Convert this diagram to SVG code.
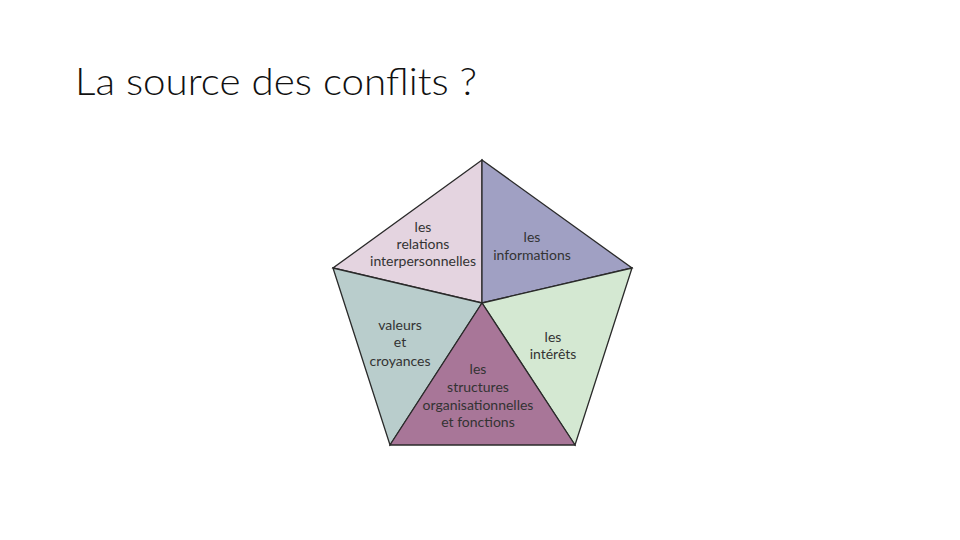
<svg xmlns="http://www.w3.org/2000/svg" width="960" height="540" viewBox="0 0 960 540">
<style>
.seg{stroke:#2a2a2a;stroke-width:1.3;stroke-linejoin:miter}
.lbl{font-family:Lato,"Open Sans","Liberation Sans",sans-serif;font-size:14px;fill:#333;text-anchor:middle}
.title{font-family:Lato,"Open Sans","Liberation Sans",sans-serif;font-weight:300;font-size:38px;fill:#111}
</style>
<rect width="960" height="540" fill="#fff"/>
<text class="title" x="75" y="95" textLength="402" lengthAdjust="spacingAndGlyphs">La source des conflits ?</text>
<g id="relations">
<polygon class="seg" points="482,160 333,268 482,303" fill="#e4d4e0"/>
<text class="lbl" x="423" y="232">les</text>
<text class="lbl" x="423" y="249">relations</text>
<text class="lbl" x="423" y="266">interpersonnelles</text>
</g>
<g id="informations">
<polygon class="seg" points="482,160 632,268 482,303" fill="#a0a0c3"/>
<text class="lbl" x="532" y="242">les</text>
<text class="lbl" x="532" y="260">informations</text>
</g>
<g id="interets">
<polygon class="seg" points="632,268 575,445 482,303" fill="#d4e8d2"/>
<text class="lbl" x="553" y="342">les</text>
<text class="lbl" x="553" y="359">intérêts</text>
</g>
<g id="valeurs">
<polygon class="seg" points="333,268 390,445 482,303" fill="#b9cdcc"/>
<text class="lbl" x="400" y="330">valeurs</text>
<text class="lbl" x="400" y="347">et</text>
<text class="lbl" x="400" y="366">croyances</text>
</g>
<g id="structures">
<polygon class="seg" points="390,445 575,445 482,303" fill="#a87698"/>
<text class="lbl" x="478" y="374">les</text>
<text class="lbl" x="478" y="392">structures</text>
<text class="lbl" x="478" y="410">organisationnelles</text>
<text class="lbl" x="478" y="427">et fonctions</text>
</g>
<g id="connectors"></g>
</svg>
